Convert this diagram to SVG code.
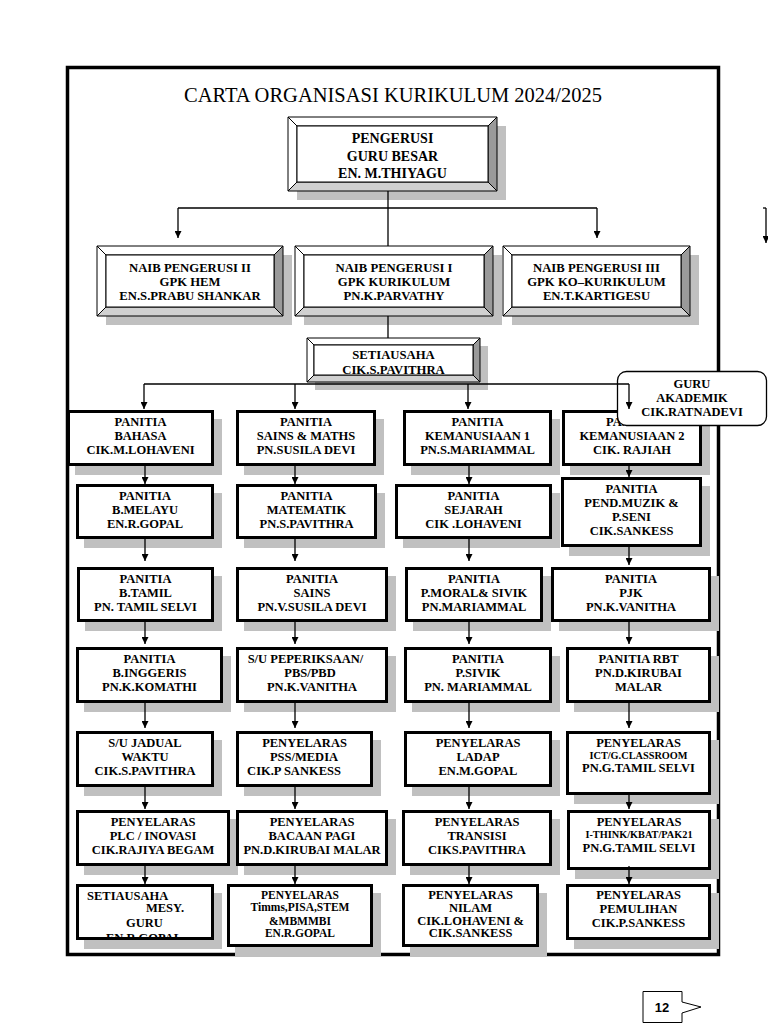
<svg xmlns="http://www.w3.org/2000/svg" width="768" height="1024" viewBox="0 0 768 1024">
<style>
.t{font-family:"Liberation Serif","Times New Roman",serif;font-weight:bold;text-anchor:middle;fill:#000;font-size:12.5px}
.n{font-size:12.7px}
.p{font-size:14px}
.s10{font-size:10.3px}
.s11{font-size:11.5px}
.title{font-family:"Liberation Serif","Times New Roman",serif;font-size:20.5px;text-anchor:middle;fill:#000}
.sh{fill:#c0c0c0}
.bx{fill:#fff;stroke:#000;stroke-width:3}
.bw{fill:#fff;stroke:#000;stroke-width:1}
.br{fill:#9a9a9a;stroke:#000;stroke-width:1}
.bb{fill:#d0d0d0;stroke:#000;stroke-width:1}
.c{stroke:#000;stroke-width:1.3;fill:none}
.ca{stroke:#000;stroke-width:1.3;fill:none;marker-end:url(#ah)}
</style>
<defs>
<marker id="ah" viewBox="0 0 10 10" refX="10" refY="5" markerWidth="8" markerHeight="7" markerUnits="userSpaceOnUse" orient="auto">
<path d="M0,0 L10,5 L0,10 z" fill="#000"/>
</marker>
<clipPath id="clipSM"><rect x="78" y="886" width="134" height="52"/></clipPath>
</defs>
<rect x="0" y="0" width="768" height="1024" fill="#fff"/>
<rect x="67.5" y="67.5" width="651" height="887" fill="none" stroke="#000" stroke-width="3.5"/>
<text class="title" x="393" y="102">CARTA ORGANISASI KURIKULUM 2024/2025</text>

<g id="pengerusi">
<rect class="sh" x="297" y="126" width="209" height="74"/>
<polygon class="bw" points="288,117 497,117 488,126 297,126"/>
<polygon class="bw" points="288,117 297,126 297,182 288,191"/>
<polygon class="br" points="497,117 497,191 488,182 488,126"/>
<polygon class="bb" points="288,191 497,191 488,182 297,182"/>
<rect class="bw" x="297" y="126" width="191" height="56"/>
<text class="t p" x="392.5" y="143">PENGERUSI</text>
<text class="t p" x="392.5" y="161">GURU BESAR</text>
<text class="t p" x="392.5" y="178">EN. M.THIYAGU</text>
</g>

<g id="naib2">
<rect class="sh" x="106" y="255" width="186" height="70"/>
<polygon class="bw" points="97,246 283,246 274,255 106,255"/>
<polygon class="bw" points="97,246 106,255 106,307 97,316"/>
<polygon class="br" points="283,246 283,316 274,307 274,255"/>
<polygon class="bb" points="97,316 283,316 274,307 106,307"/>
<rect class="bw" x="106" y="255" width="168" height="52"/>
<text class="t n" x="190" y="271.5">NAIB PENGERUSI II</text>
<text class="t n" x="190" y="285.5">GPK HEM</text>
<text class="t n" x="190" y="299.5">EN.S.PRABU SHANKAR</text>
</g>
<g id="naib1">
<rect class="sh" x="304" y="255" width="198" height="70"/>
<polygon class="bw" points="295,246 493,246 484,255 304,255"/>
<polygon class="bw" points="295,246 304,255 304,307 295,316"/>
<polygon class="br" points="493,246 493,316 484,307 484,255"/>
<polygon class="bb" points="295,316 493,316 484,307 304,307"/>
<rect class="bw" x="304" y="255" width="180" height="52"/>
<text class="t n" x="394" y="271.5">NAIB PENGERUSI I</text>
<text class="t n" x="394" y="285.5">GPK KURIKULUM</text>
<text class="t n" x="394" y="299.5">PN.K.PARVATHY</text>
</g>
<g id="naib3">
<rect class="sh" x="512" y="255" width="187" height="70"/>
<polygon class="bw" points="503,246 690,246 681,255 512,255"/>
<polygon class="bw" points="503,246 512,255 512,307 503,316"/>
<polygon class="br" points="690,246 690,316 681,307 681,255"/>
<polygon class="bb" points="503,316 690,316 681,307 512,307"/>
<rect class="bw" x="512" y="255" width="169" height="52"/>
<text class="t n" x="596.5" y="271.5">NAIB PENGERUSI III</text>
<text class="t n" x="596.5" y="285.5">GPK KO–KURIKULUM</text>
<text class="t n" x="596.5" y="299.5">EN.T.KARTIGESU</text>
</g>

<g id="setiausaha">
<rect class="sh" x="315" y="346" width="173" height="44"/>
<polygon class="bw" points="307,338 480,338 473,345 314,345"/>
<polygon class="bw" points="307,338 314,345 314,375 307,382"/>
<polygon class="br" points="480,338 480,382 473,375 473,345"/>
<polygon class="bb" points="307,382 480,382 473,375 314,375"/>
<rect class="bw" x="314" y="345" width="159" height="30"/>
<text class="t n" x="393.5" y="358.5">SETIAUSAHA</text>
<text class="t n" x="393.5" y="373.5">CIK.S.PAVITHRA</text>
</g>

<!-- Row 1 -->
<g id="r1c1"><rect class="sh" x="75" y="419" width="147" height="56"/><rect class="bx" x="68.5" y="411.5" width="144" height="53"/>
<text class="t" x="140.5" y="426">PANITIA</text><text class="t" x="140.5" y="440">BAHASA</text><text class="t" x="140.5" y="454">CIK.M.LOHAVENI</text></g>
<g id="r1c2"><rect class="sh" x="244" y="419" width="140" height="56"/><rect class="bx" x="237.5" y="411.5" width="137" height="53"/>
<text class="t" x="306" y="426">PANITIA</text><text class="t" x="306" y="440">SAINS &amp; MATHS</text><text class="t" x="306" y="454">PN.SUSILA DEVI</text></g>
<g id="r1c3"><rect class="sh" x="411" y="419" width="149" height="56"/><rect class="bx" x="404.5" y="411.5" width="146" height="53"/>
<text class="t" x="477.5" y="426">PANITIA</text><text class="t" x="477.5" y="440">KEMANUSIAAN 1</text><text class="t" x="477.5" y="454">PN.S.MARIAMMAL</text></g>
<g id="r1c4"><rect class="sh" x="570" y="419" width="140" height="56"/><rect class="bx" x="563.5" y="411.5" width="137" height="53"/>
<text class="t" x="632" y="426">PANITIA</text><text class="t" x="632" y="440">KEMANUSIAAN 2</text><text class="t" x="632" y="454">CIK. RAJIAH</text></g>

<!-- Row 2 -->
<g id="r2c1"><rect class="sh" x="84" y="493" width="138" height="55"/><rect class="bx" x="77.5" y="485.5" width="135" height="52"/>
<text class="t" x="145" y="499.5">PANITIA</text><text class="t" x="145" y="513.5">B.MELAYU</text><text class="t" x="145" y="527.5">EN.R.GOPAL</text></g>
<g id="r2c2"><rect class="sh" x="244" y="493" width="141" height="55"/><rect class="bx" x="237.5" y="485.5" width="138" height="52"/>
<text class="t" x="306.5" y="499.5">PANITIA</text><text class="t" x="306.5" y="513.5">MATEMATIK</text><text class="t" x="306.5" y="527.5">PN.S.PAVITHRA</text></g>
<g id="r2c3"><rect class="sh" x="403" y="493" width="157" height="55"/><rect class="bx" x="396.5" y="485.5" width="154" height="52"/>
<text class="t" x="473.5" y="499.5">PANITIA</text><text class="t" x="473.5" y="513.5">SEJARAH</text><text class="t" x="473.5" y="527.5">CIK .LOHAVENI</text></g>
<g id="r2c4"><rect class="sh" x="569" y="486" width="141" height="70"/><rect class="bx" x="562.5" y="478.5" width="138" height="67"/>
<text class="t" x="631.5" y="493">PANITIA</text><text class="t" x="631.5" y="507">PEND.MUZIK &amp;</text><text class="t" x="631.5" y="521">P.SENI</text><text class="t" x="631.5" y="535">CIK.SANKESS</text></g>

<!-- Row 3 -->
<g id="r3c1"><rect class="sh" x="85" y="576" width="137" height="55"/><rect class="bx" x="78.5" y="568.5" width="134" height="52"/>
<text class="t" x="145.5" y="582.5">PANITIA</text><text class="t" x="145.5" y="596.5">B.TAMIL</text><text class="t" x="145.5" y="610.5">PN. TAMIL SELVI</text></g>
<g id="r3c2"><rect class="sh" x="244" y="576" width="152" height="55"/><rect class="bx" x="237.5" y="568.5" width="149" height="52"/>
<text class="t" x="312" y="582.5">PANITIA</text><text class="t" x="312" y="596.5">SAINS</text><text class="t" x="312" y="610.5">PN.V.SUSILA DEVI</text></g>
<g id="r3c3"><rect class="sh" x="413" y="576" width="138" height="55"/><rect class="bx" x="406.5" y="568.5" width="135" height="52"/>
<text class="t" x="474" y="582.5">PANITIA</text><text class="t" x="474" y="596.5">P.MORAL&amp; SIVIK</text><text class="t" x="474" y="610.5">PN.MARIAMMAL</text></g>
<g id="r3c4"><rect class="sh" x="559" y="576" width="160" height="55"/><rect class="bx" x="552.5" y="568.5" width="157" height="52"/>
<text class="t" x="631" y="582.5">PANITIA</text><text class="t" x="631" y="596.5">PJK</text><text class="t" x="631" y="610.5">PN.K.VANITHA</text></g>

<!-- Row 4 -->
<g id="r4c1"><rect class="sh" x="84" y="656" width="147" height="56"/><rect class="bx" x="77.5" y="648.5" width="144" height="53"/>
<text class="t" x="149.5" y="663">PANITIA</text><text class="t" x="149.5" y="677">B.INGGERIS</text><text class="t" x="149.5" y="691">PN.K.KOMATHI</text></g>
<g id="r4c2"><rect class="sh" x="244" y="656" width="152" height="56"/><rect class="bx" x="237.5" y="648.5" width="149" height="53"/>
<text class="t" x="305.5" y="663">S/U PEPERIKSAAN/</text><text class="t" x="310" y="677">PBS/PBD</text><text class="t" x="312" y="691">PN.K.VANITHA</text></g>
<g id="r4c3"><rect class="sh" x="412" y="656" width="148" height="56"/><rect class="bx" x="405.5" y="648.5" width="145" height="53"/>
<text class="t" x="478" y="663">PANITIA</text><text class="t" x="478" y="677">P.SIVIK</text><text class="t" x="478" y="691">PN. MARIAMMAL</text></g>
<g id="r4c4"><rect class="sh" x="574" y="656" width="145" height="56"/><rect class="bx" x="567.5" y="648.5" width="142" height="53"/>
<text class="t" x="638.5" y="663">PANITIA RBT</text><text class="t" x="638.5" y="677">PN.D.KIRUBAI</text><text class="t" x="638.5" y="691">MALAR</text></g>

<!-- Row 5 -->
<g id="r5c1"><rect class="sh" x="84" y="740" width="138" height="56"/><rect class="bx" x="77.5" y="732.5" width="135" height="53"/>
<text class="t" x="145" y="747">S/U JADUAL</text><text class="t" x="145" y="761">WAKTU</text><text class="t" x="145" y="775">CIK.S.PAVITHRA</text></g>
<g id="r5c2"><rect class="sh" x="244" y="740" width="137" height="56"/><rect class="bx" x="237.5" y="732.5" width="134" height="53"/>
<text class="t" x="304.5" y="747">PENYELARAS</text><text class="t" x="304" y="761">PSS/MEDIA</text><text class="t" x="294" y="775">CIK.P SANKESS</text></g>
<g id="r5c3"><rect class="sh" x="412" y="740" width="148" height="56"/><rect class="bx" x="405.5" y="732.5" width="145" height="53"/>
<text class="t" x="478" y="747">PENYELARAS</text><text class="t" x="478" y="761">LADAP</text><text class="t" x="478" y="775">EN.M.GOPAL</text></g>
<g id="r5c4"><rect class="sh" x="574" y="740" width="145" height="64"/><rect class="bx" x="567.5" y="732.5" width="142" height="61"/>
<text class="t" x="638.5" y="747">PENYELARAS</text><text class="t s10" x="638.5" y="759">ICT/G.CLASSROOM</text><text class="t" x="638.5" y="772">PN.G.TAMIL SELVI</text></g>

<!-- Row 6 -->
<g id="r6c1"><rect class="sh" x="84" y="819" width="154" height="56"/><rect class="bx" x="77.5" y="811.5" width="151" height="53"/>
<text class="t" x="153" y="826">PENYELARAS</text><text class="t" x="153" y="840">PLC / INOVASI</text><text class="t" x="153" y="854">CIK.RAJIYA BEGAM</text></g>
<g id="r6c2"><rect class="sh" x="244" y="819" width="152" height="56"/><rect class="bx" x="237.5" y="811.5" width="149" height="53"/>
<text class="t" x="312" y="826">PENYELARAS</text><text class="t" x="312" y="840">BACAAN PAGI</text><text class="t" x="312" y="854">PN.D.KIRUBAI MALAR</text></g>
<g id="r6c3"><rect class="sh" x="410" y="819" width="150" height="56"/><rect class="bx" x="403.5" y="811.5" width="147" height="53"/>
<text class="t" x="477" y="826">PENYELARAS</text><text class="t" x="477" y="840">TRANSISI</text><text class="t" x="477" y="854">CIKS.PAVITHRA</text></g>
<g id="r6c4"><rect class="sh" x="575" y="819" width="144" height="60"/><rect class="bx" x="568.5" y="811.5" width="141" height="57"/>
<text class="t" x="639" y="826">PENYELARAS</text><text class="t s10" x="639" y="838">I-THINK/KBAT/PAK21</text><text class="t" x="639" y="852">PN.G.TAMIL SELVI</text></g>

<!-- Row 7 -->
<g id="r7c1"><rect class="sh" x="84" y="893" width="138" height="56"/><rect x="77.5" y="885.5" width="135" height="53" fill="#fff"/>
<g clip-path="url(#clipSM)">
<text class="t" x="87" y="900" style="text-anchor:start">SETIAUSAHA</text><text class="t" x="165" y="912">MESY.</text><text class="t" x="144.5" y="927">GURU</text><text class="t" x="144" y="942">EN.R.GOPAL</text></g>
<rect x="77.5" y="885.5" width="135" height="53" fill="none" stroke="#000" stroke-width="3"/></g>
<g id="r7c2"><rect class="sh" x="235" y="893" width="146" height="63"/><rect class="bx" x="228.5" y="885.5" width="143" height="60"/>
<text class="t s11" x="300" y="899">PENYELARAS</text><text class="t s11" x="300" y="911">Timms,PISA,STEM</text><text class="t s11" x="300" y="925">&amp;MBMMBI</text><text class="t s11" x="300" y="937">EN.R.GOPAL</text></g>
<g id="r7c3"><rect class="sh" x="410" y="893" width="137" height="63"/><rect class="bx" x="403.5" y="885.5" width="134" height="60"/>
<text class="t" x="470.5" y="899">PENYELARAS</text><text class="t" x="470.5" y="912">NILAM</text><text class="t" x="470.5" y="925">CIK.LOHAVENI &amp;</text><text class="t" x="470.5" y="937">CIK.SANKESS</text></g>
<g id="r7c4"><rect class="sh" x="574" y="893" width="145" height="56"/><rect class="bx" x="567.5" y="885.5" width="142" height="53"/>
<text class="t" x="638.5" y="899">PENYELARAS</text><text class="t" x="638.5" y="913">PEMULIHAN</text><text class="t" x="638.5" y="927">CIK.P.SANKESS</text></g>

<g id="guru-akademik">
<rect x="617.5" y="371.5" width="149" height="54" rx="9" fill="#fff" stroke="#000" stroke-width="1.3"/>
<text class="t" x="692" y="388">GURU</text>
<text class="t" x="692" y="402">AKADEMIK</text>
<text class="t" x="692" y="415.5">CIK.RATNADEVI</text>
</g>

<g id="connectors">
<line class="c" x1="388" y1="191" x2="388" y2="246"/>
<line class="c" x1="178" y1="208" x2="597" y2="208"/>
<line class="ca" x1="178" y1="208" x2="178" y2="238"/>
<line class="ca" x1="597" y1="208" x2="597" y2="238"/>
<line class="c" x1="388" y1="316" x2="388" y2="338"/>
<line class="c" x1="144" y1="384" x2="629" y2="384"/>
<line class="ca" x1="144" y1="384" x2="144" y2="409"/>
<line class="ca" x1="295" y1="384" x2="295" y2="409"/>
<line class="ca" x1="468" y1="384" x2="468" y2="409"/>
<line class="ca" x1="629" y1="384" x2="629" y2="409"/>

<line class="ca" x1="145" y1="466" x2="145" y2="484"/>
<line class="ca" x1="145" y1="539" x2="145" y2="561"/>
<line class="ca" x1="145" y1="622" x2="145" y2="644"/>
<line class="ca" x1="145" y1="703" x2="145" y2="728"/>
<line class="ca" x1="145" y1="787" x2="145" y2="809"/>
<line class="ca" x1="145" y1="866" x2="145" y2="884"/>

<line class="ca" x1="295" y1="466" x2="295" y2="484"/>
<line class="ca" x1="295" y1="539" x2="295" y2="561"/>
<line class="ca" x1="295" y1="622" x2="295" y2="644"/>
<line class="ca" x1="295" y1="703" x2="295" y2="728"/>
<line class="ca" x1="295" y1="787" x2="295" y2="809"/>
<line class="ca" x1="295" y1="866" x2="295" y2="884"/>

<line class="ca" x1="469" y1="466" x2="469" y2="484"/>
<line class="ca" x1="469" y1="539" x2="469" y2="561"/>
<line class="ca" x1="469" y1="622" x2="469" y2="644"/>
<line class="ca" x1="469" y1="703" x2="469" y2="728"/>
<line class="ca" x1="469" y1="787" x2="469" y2="809"/>
<line class="ca" x1="469" y1="866" x2="469" y2="884"/>

<line class="ca" x1="629" y1="466" x2="629" y2="477"/>
<line class="ca" x1="629" y1="547" x2="629" y2="565"/>
<line class="ca" x1="629" y1="622" x2="629" y2="644"/>
<line class="ca" x1="629" y1="703" x2="629" y2="728"/>
<line class="ca" x1="629" y1="795" x2="629" y2="809"/>
<line class="ca" x1="629" y1="866" x2="629" y2="884"/>

<line class="c" x1="763" y1="208" x2="766" y2="208"/>
<line class="ca" x1="766" y1="208" x2="766" y2="243"/>
</g>

<g id="page-number">
<path d="M643,991.5 H682 V1002 L701,1007 L682,1013 V1022.5 H643 Z" fill="#fff" stroke="#000" stroke-width="1"/>
<text x="662" y="1012" style="font-family:'Liberation Sans',Arial,sans-serif;font-weight:bold;font-size:13px;text-anchor:middle">12</text>
</g>
</svg>
